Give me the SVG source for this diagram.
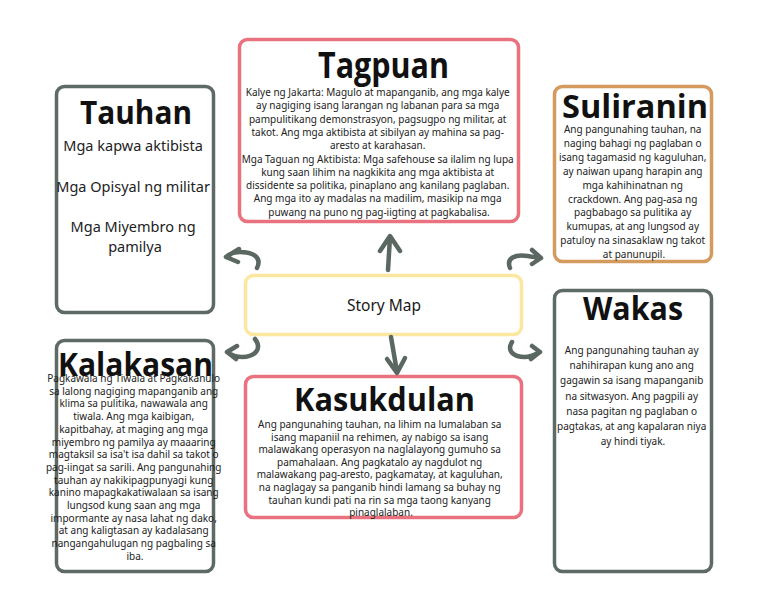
<svg xmlns="http://www.w3.org/2000/svg" width="768" height="603" viewBox="0 0 768 603">
<defs>
<style>
.box{fill:#fff;stroke-width:3.5}
.pink{stroke:#e9727f}
.gray{stroke:#5e6a64}
.tan{stroke:#d49a5e}
.yel{stroke:#fbe7a0}
.title{font-family:"Open Sans","Noto Sans",sans-serif;font-weight:700;fill:#111;text-anchor:middle}
.body{font-family:"Noto Sans","Open Sans",sans-serif;font-size:10px;fill:#222;text-anchor:middle}
.list{font-family:"Noto Sans","Open Sans",sans-serif;font-size:14.5px;fill:#222;text-anchor:middle}
.arr{fill:none;stroke:#5b6862;stroke-width:4.5;stroke-linecap:round;stroke-linejoin:round}
</style>
</defs>
<rect width="768" height="603" fill="#fff"/>

<g id="tagpuan">
<rect class="box pink" x="239.5" y="39.5" width="279" height="182" rx="8"/>
<text class="title" x="383.5" y="78" font-size="36" textLength="131" lengthAdjust="spacingAndGlyphs">Tagpuan</text>
<text class="body">
<tspan x="379" y="96">Kalye ng Jakarta: Magulo at mapanganib, ang mga kalye</tspan>
<tspan x="379" y="109.3">ay nagiging isang larangan ng labanan para sa mga</tspan>
<tspan x="379" y="122.6">pampulitikang demonstrasyon, pagsugpo ng militar, at</tspan>
<tspan x="379" y="135.9">takot. Ang mga aktibista at sibilyan ay mahina sa pag-</tspan>
<tspan x="379" y="149.2">aresto at karahasan.</tspan>
<tspan x="379" y="162.5">Mga Taguan ng Aktibista: Mga safehouse sa ilalim ng lupa</tspan>
<tspan x="379" y="175.8">kung saan lihim na nagkikita ang mga aktibista at</tspan>
<tspan x="379" y="189.1">dissidente sa politika, pinaplano ang kanilang paglaban.</tspan>
<tspan x="379" y="202.4">Ang mga ito ay madalas na madilim, masikip na mga</tspan>
<tspan x="379" y="215.7">puwang na puno ng pag-iigting at pagkabalisa.</tspan>
</text>
</g>

<g id="tauhan">
<rect class="box gray" x="56.5" y="86.5" width="157" height="226" rx="8"/>
<text class="title" x="136" y="124" font-size="33" textLength="112" lengthAdjust="spacingAndGlyphs">Tauhan</text>
<text class="list">
<tspan x="135" y="151">Mga kapwa aktibista</tspan>
<tspan x="135" y="192">Mga Opisyal ng militar</tspan>
<tspan x="135" y="232">Mga Miyembro ng</tspan>
<tspan x="135" y="252">pamilya</tspan>
</text>
</g>

<g id="suliranin">
<rect class="box tan" x="554.5" y="86.5" width="157" height="175" rx="8"/>
<text class="title" x="635" y="118" font-size="33" textLength="146" lengthAdjust="spacingAndGlyphs">Suliranin</text>
<text class="body">
<tspan x="634" y="133">Ang pangunahing tauhan, na</tspan>
<tspan x="634" y="146.9">naging bahagi ng paglaban o</tspan>
<tspan x="634" y="160.8">isang tagamasid ng kaguluhan,</tspan>
<tspan x="634" y="174.7">ay naiwan upang harapin ang</tspan>
<tspan x="634" y="188.6">mga kahihinatnan ng</tspan>
<tspan x="634" y="202.5">crackdown. Ang pag-asa ng</tspan>
<tspan x="634" y="216.4">pagbabago sa pulitika ay</tspan>
<tspan x="634" y="230.3">kumupas, at ang lungsod ay</tspan>
<tspan x="634" y="244.2">patuloy na sinasaklaw ng takot</tspan>
<tspan x="634" y="258.1">at panunupil.</tspan>
</text>
</g>

<g id="storymap">
<rect class="box yel" x="245.5" y="275.5" width="276" height="59" rx="8"/>
<text x="384" y="311" font-family="Noto Sans, Open Sans, sans-serif" font-size="15.5" fill="#1a1a1a" text-anchor="middle">Story Map</text>
</g>

<g id="wakas">
<rect class="box gray" x="554.5" y="290.5" width="157" height="281" rx="8"/>
<text class="title" x="633" y="320" font-size="33" textLength="100" lengthAdjust="spacingAndGlyphs">Wakas</text>
<text class="body" font-size="10.8">
<tspan x="633" y="354">Ang pangunahing tauhan ay</tspan>
<tspan x="633" y="369.2">nahihirapan kung ano ang</tspan>
<tspan x="633" y="384.4">gagawin sa isang mapanganib</tspan>
<tspan x="633" y="399.6">na sitwasyon. Ang pagpili ay</tspan>
<tspan x="633" y="414.8">nasa pagitan ng paglaban o</tspan>
<tspan x="633" y="430">pagtakas, at ang kapalaran niya</tspan>
<tspan x="633" y="445.2">ay hindi tiyak.</tspan>
</text>
</g>

<g id="kalakasan">
<rect class="box gray" x="56.5" y="340.5" width="157" height="231" rx="8"/>
<text class="title" x="135.5" y="376" font-size="33" textLength="155" lengthAdjust="spacingAndGlyphs">Kalakasan</text>
<text class="body" font-size="9.7">
<tspan x="135" y="382">Pagkawala ng Tiwala at Pagkakanulo</tspan>
<tspan x="135" y="394.7">sa lalong nagiging mapanganib ang</tspan>
<tspan x="135" y="407.4">klima sa pulitika, nawawala ang</tspan>
<tspan x="135" y="420.1">tiwala. Ang mga kaibigan,</tspan>
<tspan x="135" y="432.8">kapitbahay, at maging ang mga</tspan>
<tspan x="135" y="445.5">miyembro ng pamilya ay maaaring</tspan>
<tspan x="135" y="458.2">magtaksil sa isa't isa dahil sa takot o</tspan>
<tspan x="135" y="470.9">pag-iingat sa sarili. Ang pangunahing</tspan>
<tspan x="135" y="483.6">tauhan ay nakikipagpunyagi kung</tspan>
<tspan x="135" y="496.3">kanino mapagkakatiwalaan sa isang</tspan>
<tspan x="135" y="509">lungsod kung saan ang mga</tspan>
<tspan x="135" y="521.7">impormante ay nasa lahat ng dako,</tspan>
<tspan x="135" y="534.4">at ang kaligtasan ay kadalasang</tspan>
<tspan x="135" y="547.1">nangangahulugan ng pagbaling sa</tspan>
<tspan x="135" y="559.8">iba.</tspan>
</text>
</g>

<g id="kasukdulan">
<rect class="box pink" x="245.5" y="376.5" width="276" height="141" rx="8"/>
<text class="title" x="384.5" y="411" font-size="33" textLength="181" lengthAdjust="spacingAndGlyphs">Kasukdulan</text>
<text class="body" font-size="9.4">
<tspan x="381" y="428">Ang pangunahing tauhan, na lihim na lumalaban sa</tspan>
<tspan x="381" y="440.6">isang mapaniil na rehimen, ay nabigo sa isang</tspan>
<tspan x="381" y="453.2">malawakang operasyon na naglalayong gumuho sa</tspan>
<tspan x="381" y="465.8">pamahalaan. Ang pagkatalo ay nagdulot ng</tspan>
<tspan x="381" y="478.4">malawakang pag-aresto, pagkamatay, at kaguluhan,</tspan>
<tspan x="381" y="491">na naglagay sa panganib hindi lamang sa buhay ng</tspan>
<tspan x="381" y="503.6">tauhan kundi pati na rin sa mga taong kanyang</tspan>
<tspan x="381" y="516.2">pinaglalaban.</tspan>
</text>
</g>

<g id="connectors">
<path class="arr" d="M388 270 L390 237 M380 251 L390 236 L400 251"/>
<path class="arr" d="M391 337 L397 372 M387 359 L397 373 L405 358"/>
<path class="arr" d="M257 268 C262 258 254 252 240 252 C233 252 228 255 226 257 M239 249 L226 257 L238 262"/>
<path class="arr" d="M510 268 C506 258 515 254 528 256 C534 257 538 258 541 258 M532 250 L541 258 L532 264"/>
<path class="arr" d="M255 339 C262 348 256 357 242 357 C235 357 230 354 227 352 M237 346 L227 352 L236 359"/>
<path class="arr" d="M512 342 C507 350 512 357 525 357 C531 357 536 354 540 352 M532 346 L540 352 L531 359"/>
</g>
</svg>
